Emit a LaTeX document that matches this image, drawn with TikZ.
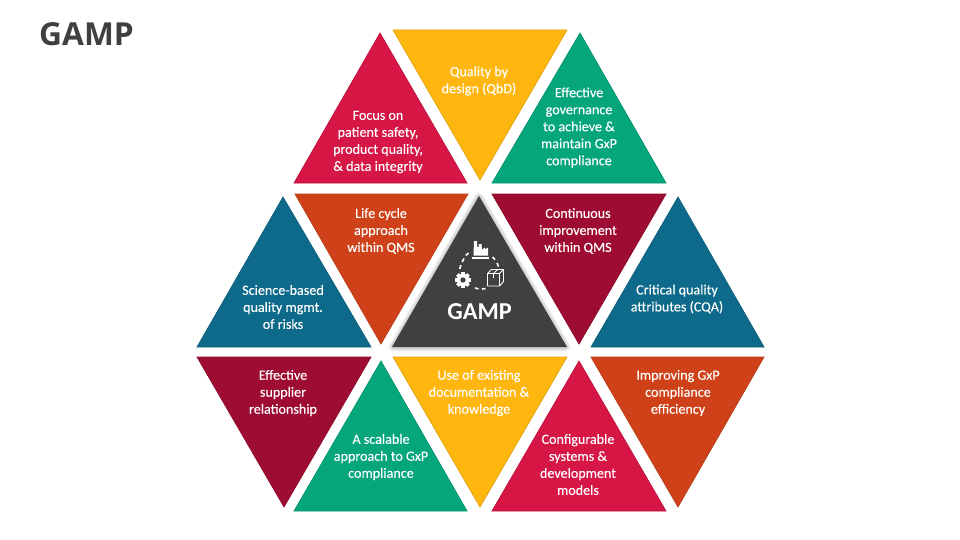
\documentclass[tikz,border=0pt]{standalone}
\usepackage{fontspec}
\setmainfont{Carlito}
\newfontfamily\labfont[FakeBold=0.12]{Carlito}
\newfontfamily\titlefont{Open Sans}
\definecolor{cRed}{HTML}{D61645}
\definecolor{cYel}{HTML}{FFB60F}
\definecolor{cGrn}{HTML}{05A67C}
\definecolor{cOrg}{HTML}{CF4219}
\definecolor{cCrm}{HTML}{9E0C33}
\definecolor{cBlu}{HTML}{0E6A8A}
\definecolor{cDrk}{HTML}{404040}
\tikzset{
  x=1pt,y=-1pt,
  tri/.style={fill=#1,draw=#1!88!black,line width=0.7pt,line join=miter},
  lab/.style={text=white,align=center,font=\labfont\fontsize{14.1}{17}\selectfont,inner sep=0pt},
  icon/.style={draw=white,line width=1.6pt},
  iconfill/.style={fill=white,draw=none}
}
\begin{document}
\begin{tikzpicture}
\useasboundingbox (0,0) rectangle (960,540);
\node[anchor=west,inner sep=0pt,text=cDrk] (title) at (39,34) {\titlefont\fontsize{31.7}{36}\selectfont\bfseries GAMP};

\draw[tri=cRed] (380,33) -- (467,183) -- (294,183) -- cycle;
\draw[tri=cYel] (393,30) -- (567,30) -- (480,180) -- cycle;
\draw[tri=cGrn] (580,33) -- (666,183) -- (492,183) -- cycle;
\draw[tri=cOrg] (295,194) -- (468,194) -- (381,344) -- cycle;
\draw[tri=cCrm] (492,194) -- (666,194) -- (579,344) -- cycle;
\draw[tri=cBlu] (283,197) -- (371,347) -- (197,347) -- cycle;
\draw[tri=cBlu] (678,197) -- (764,347) -- (591,347) -- cycle;
\draw[tri=cCrm] (197,357) -- (371,357) -- (284,507) -- cycle;
\draw[tri=cGrn] (381,361) -- (467,511) -- (294,511) -- cycle;
\draw[tri=cYel] (393,357) -- (567,357) -- (480,507) -- cycle;
\draw[tri=cRed] (579,361) -- (666,511) -- (492,511) -- cycle;
\draw[tri=cOrg] (591,357) -- (764,357) -- (678,507) -- cycle;

% centre triangle with soft halo
\foreach \w in {9,7,5,3}
  \draw[black,opacity=0.05,line width=\w pt,line join=round] (479,197) -- (566,347) -- (393,347) -- cycle;
\fill[cDrk] (479,196) -- (567,347) -- (392,347) -- cycle;

\node[lab] (n1) at (378,142) {Focus on\\patient safety,\\product quality,\\\& data integrity};
\node[lab] (n2) at (479,81) {Quality by\\design (QbD)};
\node[lab] (n3) at (579,127.5) {Effective\\governance\\to achieve \&\\maintain GxP\\compliance};
\node[lab] (n4) at (381,231) {Life cycle\\approach\\within QMS};
\node[lab] (n5) at (578,231) {Continuous\\improvement\\within QMS};
\node[lab] (n6) at (283,307) {Science-based\\quality mgmt.\\of risks};
\node[lab] (n7) at (677,299) {Critical quality\\attributes (CQA)};
\node[lab] (n8) at (283,393) {Effective\\supplier\\relationship};
\node[lab] (n9) at (381,457) {A scalable\\approach to GxP\\compliance};
\node[lab] (n10) at (479,393) {Use of existing\\documentation \&\\knowledge};
\node[lab] (n11) at (578,464.5) {Configurable\\systems \&\\development\\models};
\node[lab] (n12) at (678,393) {Improving GxP\\compliance\\efficiency};
\node[text=white,inner sep=0pt,font=\fontsize{24.3}{28}\selectfont\bfseries] (center) at (479.5,312) {GAMP};

% factory icon
\fill[iconfill] (471.5,256.5) rectangle (489,258.5);
\fill[iconfill] (473.5,255.5) -- (474,241) -- (477,241) -- (477.3,247) -- (478.5,247) -- (479,244) -- (481.5,244) -- (482,249.5) -- (485,247.5) -- (485,249.5) -- (488,247.5) -- (488,255.5) -- cycle;
% dashed ring
\draw[icon] (459.8,269) -- (460.8,265);
\draw[icon] (462.2,262) -- (464,258.5);
\draw[icon] (465.8,255.5) -- (468.5,253);
\draw[icon] (492.5,257) -- (495,259.5);
\draw[icon] (497,263) -- (498.5,266.5);
\draw[icon] (475,288) -- (478.5,288.8);
\draw[icon] (482,289) -- (485.5,288.6);
% gear
\foreach \a in {0,45,...,315}
  \fill[white] (463,280) ++(\a-13:8) -- ++(\a+90:3.6) -- ++(\a+180:2.6) -- ++(\a-90:3.6) -- cycle;
\fill[white,even odd rule] (463,280) circle[radius=6.2] (463,280) circle[radius=2.8];
% box
\draw[white,line width=0.9pt,line join=round] (487.5,273.5) -- (487.5,286) -- (499.5,286) -- (503.5,281.5) -- (503.5,269.5) -- (491.5,269.5) -- cycle;
\draw[white,line width=0.9pt,line join=round] (487.5,273.5) -- (499.5,273.5) -- (503.5,269.5) (499.5,273.5) -- (499.5,286);
\draw[white,line width=0.9pt] (493.5,273.5) -- (497.5,269.5) (493.5,273.5) -- (493.5,278);
\end{tikzpicture}
\end{document}
